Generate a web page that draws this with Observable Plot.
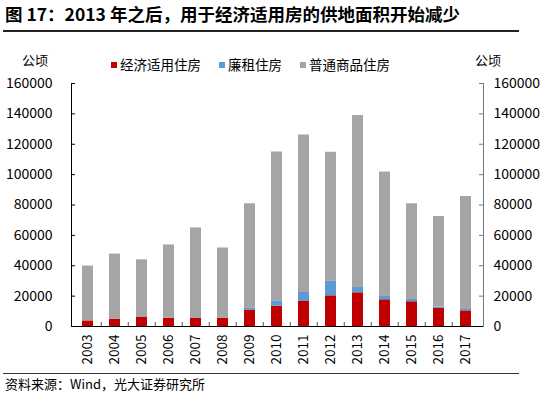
<!DOCTYPE html>
<html>
<head>
<meta charset="utf-8">
<script src="https://cdn.jsdelivr.net/npm/d3@7"></script>
<script src="https://cdn.jsdelivr.net/npm/@observablehq/plot@0.6"></script>
<style>
  html, body { margin: 0; padding: 0; background: #fff; }
  #wrap { position: relative; width: 550px; height: 393px; font-family: "Noto Sans CJK SC", sans-serif; color: #000; overflow: hidden; }
  .abs { position: absolute; line-height: 1; white-space: nowrap; }
  #legend { display: flex; align-items: center; font-size: 13.5px; }
  #legend .item { display: flex; align-items: center; margin-right: 18px; }
  #legend .sw { width: 6px; height: 6px; margin-right: 3px; }
</style>
</head>
<body>
<div id="wrap">
  <div id="chart" class="abs" style="left:0;top:0"></div>
  <div class="abs" id="title" style="left:5px;top:5px;font-size:17.5px;font-weight:bold;">图 17：2013 年之后，用于经济适用房的供地面积开始减少</div>
  <div class="abs" style="left:3px;top:30px;width:516px;height:1.5px;background:#222"></div>
  <div class="abs" style="left:22px;top:53px;font-size:13px;">公顷</div>
  <div class="abs" style="left:475px;top:53px;font-size:13px;">公顷</div>
  <div class="abs" id="legend" style="left:111px;top:58px;"></div>
  <div class="abs" style="left:3px;top:373px;width:516px;height:1px;background:#333"></div>
  <div class="abs" style="left:5px;top:377px;font-size:13px;">资料来源：Wind，光大证券研究所</div>
</div>
<script>
const years = ["2003","2004","2005","2006","2007","2008","2009","2010","2011","2012","2013","2014","2015","2016","2017"];
const seriesNames = ["经济适用住房", "廉租住房", "普通商品住房"];
const seriesColors = ["#C00000", "#5B9BD5", "#A5A5A5"];
const econ      = [3700, 4800, 6200, 5500, 5300, 5300, 10600, 13400, 16500, 20200, 22200, 17600, 16300, 11900, 10300];
const lowRent   = [0, 0, 300, 0, 0, 0, 1300, 3500, 5900, 9500, 3500, 2200, 1500, 900, 900];
const commodity = [36100, 42900, 37400, 48200, 59600, 46400, 68900, 98000, 103700, 85000, 113200, 81900, 63000, 59600, 74400];
const yTicks = [0, 20000, 40000, 60000, 80000, 100000, 120000, 140000, 160000];

const seriesValues = [econ, lowRent, commodity];
const data = [];
years.forEach((y, i) => {
  seriesNames.forEach((s, j) => data.push({year: y, series: s, value: seriesValues[j][i]}));
});

const W = 550, H = 393, mL = 71, mR = 67, mT = 83, mB = 67;
const plotW = W - mL - mR, plotH = H - mT - mB;
const step = plotW / years.length;
const font = "'Noto Sans CJK SC', sans-serif";

const chart = Plot.plot({
  width: W, height: H,
  marginLeft: mL, marginRight: mR, marginTop: mT, marginBottom: mB,
  style: {fontFamily: font, background: "transparent"},
  x: {domain: years, paddingInner: 0.59, paddingOuter: 0.295, axis: null, label: null},
  y: {domain: [0, 160000], axis: null, label: null},
  color: {domain: seriesNames, range: seriesColors},
  marks: [
    Plot.barY(data, {x: "year", y: "value", fill: "series", order: seriesNames}),
    Plot.axisY({anchor: "left", label: null, ticks: yTicks, tickSize: 0, tickPadding: 19, fontSize: 14, tickFormat: d => String(d)}),
    Plot.axisY({anchor: "right", label: null, ticks: yTicks, tickSize: 0, tickPadding: 10, fontSize: 14, tickFormat: d => String(d)}),
    Plot.tickY(yTicks, {y: d => d, insetRight: plotW - 4, stroke: "#000"}),
    Plot.tickY(yTicks, {y: d => d, insetLeft: plotW - 4, stroke: "#777"}),
    Plot.axisX({anchor: "bottom", label: null, tickSize: 0, tickPadding: 8, tickRotate: -90, fontSize: 13.5}),
    Plot.tickX(years.slice(1), {x: d => d, dx: -step / 2, insetTop: plotH - 4, stroke: "#555"}),
    Plot.frame({anchor: "left", stroke: "#000"}),
    Plot.frame({anchor: "right", stroke: "#777"}),
    Plot.ruleY([0], {stroke: "#000"})
  ]
});
document.getElementById("chart").appendChild(chart);

const legend = document.getElementById("legend");
seriesNames.forEach((s, i) => {
  const item = document.createElement("div");
  item.className = "item";
  const sw = document.createElement("div");
  sw.className = "sw";
  sw.style.background = seriesColors[i];
  const t = document.createElement("span");
  t.textContent = s;
  item.appendChild(sw); item.appendChild(t);
  legend.appendChild(item);
});
</script>
</body>
</html>
